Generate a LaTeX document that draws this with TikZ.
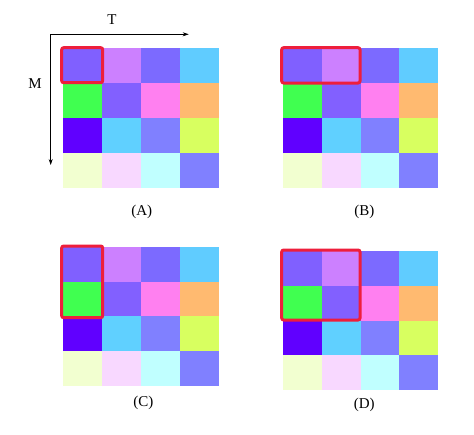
\documentclass[tikz,border=0pt]{standalone}
\usepackage{fontspec}
\setmainfont{Liberation Serif}
\usetikzlibrary{arrows.meta}
\definecolor{cA}{RGB}{128,96,255}
\definecolor{cB}{RGB}{204,128,255}
\definecolor{cC}{RGB}{124,106,255}
\definecolor{cD}{RGB}{96,204,255}
\definecolor{cE}{RGB}{64,255,80}
\definecolor{cF}{RGB}{130,96,255}
\definecolor{cG}{RGB}{255,128,240}
\definecolor{cH}{RGB}{255,186,112}
\definecolor{cI}{RGB}{96,0,255}
\definecolor{cJ}{RGB}{96,208,255}
\definecolor{cK}{RGB}{128,128,255}
\definecolor{cL}{RGB}{216,255,96}
\definecolor{cM}{RGB}{242,255,208}
\definecolor{cN}{RGB}{248,216,255}
\definecolor{cO}{RGB}{192,255,255}
\definecolor{cP}{RGB}{128,128,255}
\definecolor{hl}{RGB}{238,30,60}
\tikzset{
  lbl/.style={font=\fontsize{15}{18}\selectfont, inner sep=0pt},
  sel/.style={draw=hl, line width=3pt, rounded corners=2pt},
  axis/.style={draw=black, line width=0.7pt, -{Stealth[length=6pt,width=4pt]}}
}
\newcommand{\mygrid}[2]{%
  \foreach \r/\row in {0/{cA,cB,cC,cD},1/{cE,cF,cG,cH},2/{cI,cJ,cK,cL},3/{cM,cN,cO,cP}}{%
    \foreach \c [count=\k from 0] in \row {%
      \fill[\c] ({#1+\k*38.9},{-(#2+\r*34.8)}) rectangle ++(38.9,-34.8);
    }
  }%
}
\begin{document}
\begin{tikzpicture}[x=1pt,y=1pt]
\useasboundingbox (0,0) rectangle (474,-434);
\fill[white] (0,0) rectangle (474,-434);
% grids
\mygrid{63.3}{48.3}
\mygrid{282.7}{48.3}
\mygrid{63.3}{246.7}
\mygrid{282.7}{251}
% axes
\coordinate (o) at (50.7,-34.3);
\coordinate (te) at (188.7,-34.3);
\coordinate (me) at (50.7,-165);
\draw[axis] (o) -- (te);
\draw[axis] (o) -- (me);
\node[lbl] (T) at (112,-20) {T};
\node[lbl] (M) at (35,-83.3) {M};
% selections
\draw[sel] (61.7,-47.7) rectangle (102.7,-82.7);
\draw[sel] (281.7,-47.7) rectangle (360,-83);
\draw[sel] (61.7,-246) rectangle (102.7,-317.7);
\draw[sel] (281.7,-250) rectangle (360,-320);
% labels
\node[lbl] (la) at (141.7,-211.7) {(A)};
\node[lbl] (lb) at (364.3,-211.5) {(B)};
\node[lbl] (lc) at (143.3,-402.7) {(C)};
\node[lbl] (ld) at (364.3,-405) {(D)};
\end{tikzpicture}
\end{document}
